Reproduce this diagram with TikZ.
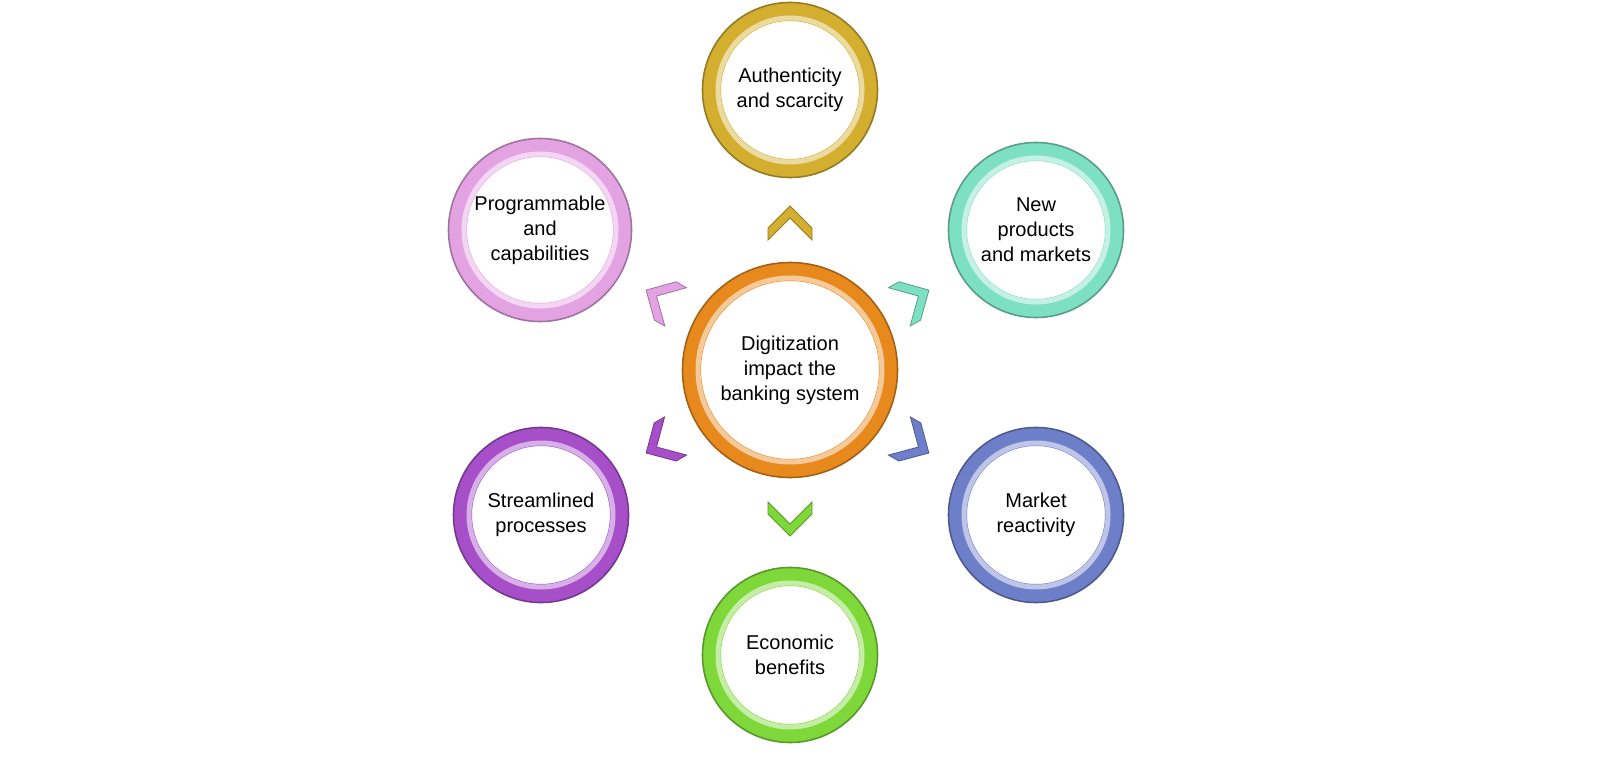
\documentclass[tikz,border=0pt]{standalone}
\usepackage{fontspec}
\setmainfont{Liberation Sans}
\begin{document}
\begin{tikzpicture}[x=0.5pt,y=-0.5pt,
  ring/.style={circle,minimum size={#1*0.5pt},inner sep=0pt,align=center,fill=white},
  chev/.style={fill=#1,draw=#1!70!black,line width=0.4pt}]
\useasboundingbox (0,0) rectangle (1600,759);
\newcommand\ringdraw[4]{%
  \node[ring=#3] (#1) at #2 {};
  \draw[line width=9pt,color=#1col] (#1.center) circle[radius=#3/2-10];
  \draw[line width=2.5pt,color=#1col!45!white] (#1.center) circle[radius=#3/2-16];
  \draw[line width=0.8pt,color=#1col!70!black] (#1.center) circle[radius=#3/2-0.5];
  \node[align=center,font=\fontsize{10}{12.5}\selectfont] at (#1.center) {#4};}
\definecolor{ccol}{HTML}{E8891E}
\definecolor{tcol}{HTML}{D4AE2E}
\definecolor{trcol}{HTML}{7EE0C2}
\definecolor{brcol}{HTML}{6E7FCA}
\definecolor{bcol}{HTML}{7FD83A}
\definecolor{blcol}{HTML}{A64FC9}
\definecolor{tlcol}{HTML}{E3A3E3}
\newcommand\chevron[3]{%
  \begin{scope}[shift={#1},rotate=#2]
  \fill[chev=#3] (-22,6)--(0,-16)--(22,6)--(22,18)--(0,-4)--(-22,18)--cycle;
  \end{scope}}
\ringdraw{t}{(790,90)}{176}{Authenticity\\and scarcity}
\ringdraw{tr}{(1036,230)}{176}{New\\products\\and markets}
\ringdraw{br}{(1036,515)}{176}{Market\\reactivity}
\ringdraw{b}{(790,655)}{176}{Economic\\benefits}
\ringdraw{bl}{(541,515)}{176}{Streamlined\\processes}
\ringdraw{tl}{(540,230)}{184}{Programmable\\and\\capabilities}
\ringdraw{c}{(790,370)}{216}{Digitization\\impact the\\banking system}
\chevron{(790,222)}{0}{tcol}
\chevron{(915,298)}{-60.5}{trcol}
\chevron{(660,298)}{60.5}{tlcol}
\chevron{(915,445)}{-120}{brcol}
\chevron{(660,445)}{120}{blcol}
\chevron{(790,520)}{180}{bcol}
\end{tikzpicture}
\end{document}
